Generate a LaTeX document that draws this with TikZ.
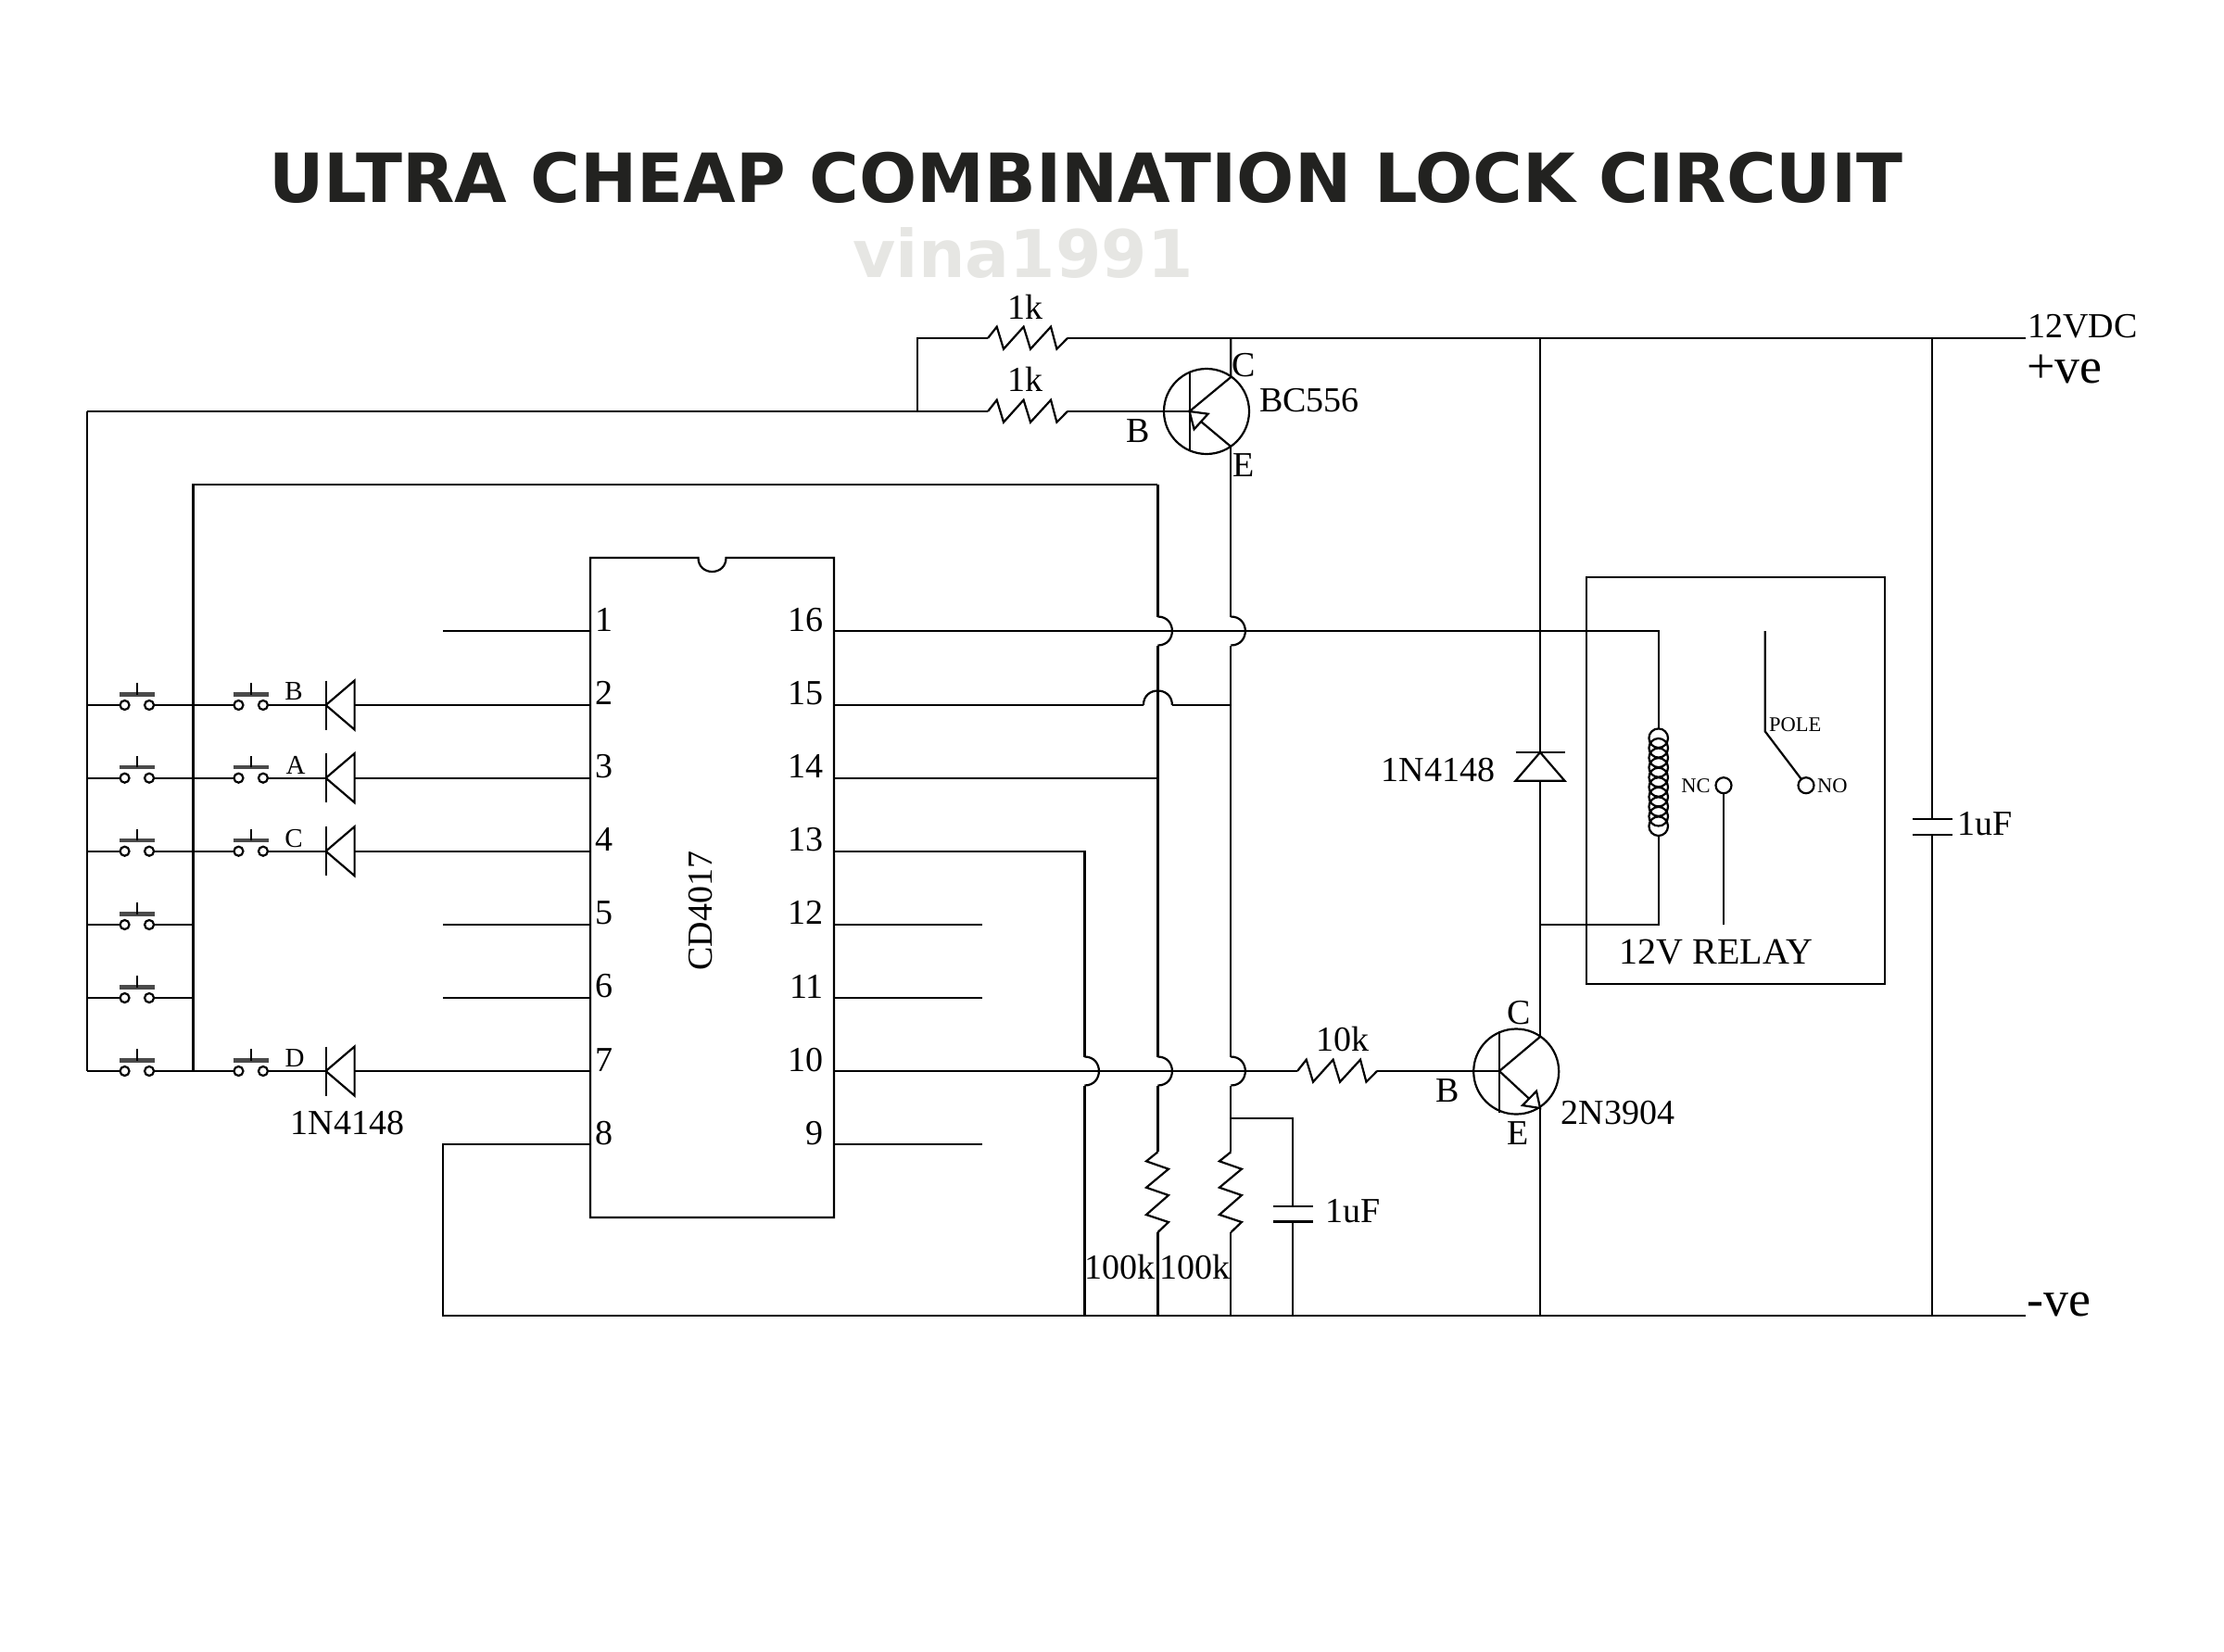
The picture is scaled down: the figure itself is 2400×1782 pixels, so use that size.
\documentclass[tikz,border=0pt]{standalone}
\usepackage{fontspec}
\setmainfont{Liberation Serif}
\newfontfamily\titlefont{DejaVu Sans}
\definecolor{inkdark}{HTML}{222220}
\definecolor{inkmark}{HTML}{E6E6E3}
\definecolor{swbar}{HTML}{4A4A4A}

\tikzset{
  wire/.style={line width=2.2pt},
  lbl/.style={inner sep=0pt,font=\fontsize{38}{40}\selectfont},
  lblsmall/.style={inner sep=0pt,font=\fontsize{29}{30}\selectfont},
  lbltiny/.style={inner sep=0pt,font=\fontsize{22.5}{24}\selectfont},
  lblbig/.style={inner sep=0pt,font=\fontsize{54}{56}\selectfont},
  bjt/.style={circle,draw,line width=2.2pt,inner sep=0pt,outer sep=0pt,minimum size=92pt},
  termc/.style={circle,draw,line width=2.2pt,inner sep=0pt,outer sep=0pt,minimum size=17pt},
  pushsw/.pic={
    \draw[wire] (-13.25,0) circle[radius=5] (13.25,0) circle[radius=5];
    \draw[line width=4.4pt,swbar] (-19,-11.5) -- (19,-11.5);
    \draw[wire] (0,-11.5) -- (0,-24);
    \coordinate (-l) at (-18.25,0);
    \coordinate (-r) at (18.25,0);
  },
  diodel/.pic={
    \draw[wire] (0,-26.5) -- (0,26.5);
    \draw[wire] (0,0) -- (31,-26.5) -- (31,26.5) -- cycle;
    \coordinate (-a) at (0,0);
    \coordinate (-k) at (31,0);
  },
  diodeu/.pic={
    \draw[wire] (-26.5,0) -- (26.5,0);
    \draw[wire] (0,0) -- (-26.5,30.7) -- (26.5,30.7) -- cycle;
    \coordinate (-a) at (0,0);
    \coordinate (-k) at (0,30.7);
  },
  resh/.pic={
    \draw[wire] (0,0) -- (9.7,-12.3) -- (17,11.7) -- (38.6,-12.3) -- (46,11.7)
      -- (68,-12.3) -- (74.4,11.7) -- (86,0);
    \coordinate (-l) at (0,0);
    \coordinate (-r) at (86,0);
  },
  resv/.pic={
    \draw[wire] (0,0) -- (-12.4,10) -- (11.6,18.4) -- (-12.4,38.4) -- (11.6,46.7)
      -- (-12.4,67.7) -- (11.6,75.7) -- (0,86.7);
    \coordinate (-t) at (0,0);
    \coordinate (-b) at (0,86.7);
  },
  capv/.pic={
    \draw[wire] (-21.5,-8.2) -- (21.5,-8.2) (-21.5,8.2) -- (21.5,8.2);
    \coordinate (-t) at (0,-8.2);
    \coordinate (-b) at (0,8.2);
  },
  hopv/.pic={
    \draw[wire] (0,-15.5) .. controls (20.7,-15.5) and (20.7,15.5) .. (0,15.5);
    \coordinate (-t) at (0,-15.5);
    \coordinate (-b) at (0,15.5);
  },
  hoph/.pic={
    \draw[wire] (-15.5,0) .. controls (-15.5,-20.7) and (15.5,-20.7) .. (15.5,0);
    \coordinate (-l) at (-15.5,0);
    \coordinate (-r) at (15.5,0);
  }
}

\begin{document}
\begin{tikzpicture}[x=1pt,y=-1pt]
  \useasboundingbox[fill=white] (0,0) rectangle (2400,1782);

  %% title
  \node[inner sep=0pt,text=inkdark,font=\titlefont\bfseries\fontsize{73.2}{76}\selectfont]
    (title) at (1172,192) {ULTRA CHEAP COMBINATION LOCK CIRCUIT};
  \node[inner sep=0pt,text=inkmark,font=\titlefont\bfseries\fontsize{71}{74}\selectfont]
    (mark) at (1104,273) {vina1991};

  %% rails
  \coordinate (vccl)  at (989.6,365);
  \coordinate (vccr)  at (2186,365);
  \coordinate (vccq1) at (1328.3,365);
  \coordinate (vccd)  at (1662,365);
  \coordinate (vccc)  at (2085.3,365);
  \coordinate (gndl)  at (478,1420);
  \coordinate (gndr)  at (2186,1420);
  \coordinate (gnd13) at (1170.4,1420);
  \coordinate (gndr1) at (1249.4,1420);
  \coordinate (gndr2) at (1328.3,1420);
  \coordinate (gndc)  at (1395,1420);
  \coordinate (gndq)  at (1662,1420);
  \coordinate (gndcc) at (2085.3,1420);
  \coordinate (fbl)   at (93.7,444);
  \coordinate (fbj)   at (989.6,444);
  \coordinate (rstl)  at (208.5,522.7);
  \coordinate (rstr)  at (1249.4,522.7);

  %% chip
  \node[minimum width=263pt,minimum height=712pt,inner sep=0pt,outer sep=0pt] (ic) at (768.5,958) {};
  \coordinate (notchl) at (753.5,602);
  \coordinate (notchr) at (783.5,602);
  \draw[wire] (ic.north west) -- (notchl) .. controls (753.5,622) and (783.5,622) .. (notchr)
    -- (ic.north east) -- (ic.south east) -- (ic.south west) -- cycle;
  \node[lbl,rotate=90] (icname) at (756,983) {CD4017};

  \coordinate (p1) at (637,681);
  \coordinate (p2) at (637,761);
  \coordinate (p3) at (637,839.7);
  \coordinate (p4) at (637,918.7);
  \coordinate (p5) at (637,998);
  \coordinate (p6) at (637,1077);
  \coordinate (p7) at (637,1156);
  \coordinate (p8) at (637,1235);
  \coordinate (p16) at (900,681);
  \coordinate (p15) at (900,761);
  \coordinate (p14) at (900,839.7);
  \coordinate (p13) at (900,918.7);
  \coordinate (p12) at (900,998);
  \coordinate (p11) at (900,1077);
  \coordinate (p10) at (900,1156);
  \coordinate (p9)  at (900,1235);

  \node[lbl] (n1) at (651.5,669) {1};
  \node[lbl] (n2) at (651.5,748) {2};
  \node[lbl] (n3) at (651.5,827) {3};
  \node[lbl] (n4) at (651.5,906) {4};
  \node[lbl] (n5) at (651.5,985) {5};
  \node[lbl] (n6) at (651.5,1064.5) {6};
  \node[lbl] (n7) at (651.5,1144) {7};
  \node[lbl] (n8) at (651.5,1223) {8};
  \node[lbl,anchor=east] (n16) at (889,669) {16};
  \node[lbl,anchor=east] (n15) at (889,748) {15};
  \node[lbl,anchor=east] (n14) at (889,827) {14};
  \node[lbl,anchor=east] (n13) at (889,906) {13};
  \node[lbl,anchor=east] (n12) at (889,985) {12};
  \node[lbl,anchor=east] (n11) at (889,1064.5) {11};
  \node[lbl,anchor=east] (n10) at (889,1144) {10};
  \node[lbl,anchor=east] (n9)  at (889,1223) {9};

  %% unused pins
  \coordinate (s1) at (478,681);
  \coordinate (s5) at (478,998);
  \coordinate (s6) at (478,1077);
  \coordinate (s8) at (478,1235);
  \coordinate (s12) at (1059.5,998);
  \coordinate (s11) at (1059.5,1077);
  \coordinate (s9)  at (1059.5,1235);
  \draw[wire] (s1) -- (p1);
  \draw[wire] (s5) -- (p5);
  \draw[wire] (s6) -- (p6);
  \draw[wire] (p12) -- (s12);
  \draw[wire] (p11) -- (s11);
  \draw[wire] (p9) -- (s9);
  \draw[wire] (p8) -- (s8) -- (gndl) -- (gndr);

  %% keypad
  \coordinate (lr1) at (93.7,761);
  \coordinate (lr2) at (93.7,839.7);
  \coordinate (lr3) at (93.7,918.7);
  \coordinate (lr4) at (93.7,998);
  \coordinate (lr5) at (93.7,1077);
  \coordinate (lr6) at (93.7,1156);
  \coordinate (ir1) at (208.5,761);
  \coordinate (ir2) at (208.5,839.7);
  \coordinate (ir3) at (208.5,918.7);
  \coordinate (ir4) at (208.5,998);
  \coordinate (ir5) at (208.5,1077);
  \coordinate (ir6) at (208.5,1156);

  \pic (k1) at (147.8,761) {pushsw};
  \pic (k2) at (147.8,839.7) {pushsw};
  \pic (k3) at (147.8,918.7) {pushsw};
  \pic (k4) at (147.8,998) {pushsw};
  \pic (k5) at (147.8,1077) {pushsw};
  \pic (k6) at (147.8,1156) {pushsw};
  \pic (kb) at (270.7,761) {pushsw};
  \pic (ka) at (270.7,839.7) {pushsw};
  \pic (kc) at (270.7,918.7) {pushsw};
  \pic (kd) at (270.7,1156) {pushsw};
  \pic (db) at (351.6,761) {diodel};
  \pic (da) at (351.6,839.7) {diodel};
  \pic (dc) at (351.6,918.7) {diodel};
  \pic (dd) at (351.6,1156) {diodel};

  \draw[wire] (lr1) -- (k1-l) (k1-r) -- (ir1);
  \draw[wire] (lr2) -- (k2-l) (k2-r) -- (ir2);
  \draw[wire] (lr3) -- (k3-l) (k3-r) -- (ir3);
  \draw[wire] (lr4) -- (k4-l) (k4-r) -- (ir4);
  \draw[wire] (lr5) -- (k5-l) (k5-r) -- (ir5);
  \draw[wire] (lr6) -- (k6-l) (k6-r) -- (ir6);
  \draw[wire] (ir1) -- (kb-l) (kb-r) -- (db-a) (db-k) -- (p2);
  \draw[wire] (ir2) -- (ka-l) (ka-r) -- (da-a) (da-k) -- (p3);
  \draw[wire] (ir3) -- (kc-l) (kc-r) -- (dc-a) (dc-k) -- (p4);
  \draw[wire] (ir6) -- (kd-l) (kd-r) -- (dd-a) (dd-k) -- (p7);
  \draw[wire] (fbl) -- (lr6);
  \draw[wire] (ir6) -- (rstl) -- (rstr);

  \node[lblsmall] (lb) at (317,746) {B};
  \node[lblsmall] (la) at (319,826) {A};
  \node[lblsmall] (lc) at (317,905) {C};
  \node[lblsmall] (ld) at (318,1142) {D};
  \node[lbl] (ld4148) at (375,1212) {1N4148};

  %% top resistors and BC556
  \pic (r1) at (1066,365) {resh};
  \pic (r2) at (1066,444) {resh};
  \node[lbl] (r1v) at (1106,331) {1k};
  \node[lbl] (r2v) at (1106,409) {1k};
  \draw[wire] (fbj) -- (vccl) -- (r1-l) (r1-r) -- (vccr);
  \draw[wire] (fbl) -- (r2-l);

  \node[bjt] (q1) at (1302,444) {};
  \coordinate (q1b) at (1283.6,444);
  \coordinate (q1bt) at (1283.6,401);
  \coordinate (q1bb) at (1283.6,487);
  \coordinate (q1c) at (1328.3,407);
  \coordinate (q1e) at (1328.3,482);
  \coordinate (q1a) at (1296,455);
  \draw[wire] (r2-r) -- (q1b);
  \draw[wire] (q1bt) -- (q1bb);
  \draw[wire] (q1b) -- (q1c) -- (vccq1);
  \draw[wire] (q1e) -- (q1a);
  \draw[wire,fill=white] (q1b) -- (1303.6,446.7) -- (1288.6,463.3) -- cycle;
  \node[lbl] (q1cl) at (1342,394) {C};
  \node[lbl] (q1el) at (1342,502) {E};
  \node[lbl] (q1bl) at (1228,465) {B};
  \node[lbl,anchor=west] (q1n) at (1359,432) {BC556};

  %% hops and long verticals
  \pic (h13) at (1170.4,1156) {hopv};
  \pic (h1a) at (1249.4,681) {hopv};
  \pic (h1b) at (1249.4,1156) {hopv};
  \pic (h2a) at (1328.3,681) {hopv};
  \pic (h2b) at (1328.3,1156) {hopv};
  \pic (h15) at (1249.4,761) {hoph};
  \pic (r3) at (1249.4,1243.3) {resv};
  \pic (r4) at (1328.3,1243.3) {resv};
  \coordinate (j14) at (1249.4,839.7);
  \coordinate (j15) at (1328.3,761);
  \coordinate (t13) at (1170.4,918.7);
  \coordinate (jc)  at (1328.3,1207.3);
  \coordinate (jct) at (1395,1207.3);

  \draw[wire] (rstr) -- (h1a-t) (h1a-b) -- (h1b-t) (h1b-b) -- (r3-t) (r3-b) -- (gndr1);
  \draw[wire] (q1e) -- (h2a-t) (h2a-b) -- (h2b-t) (h2b-b) -- (r4-t) (r4-b) -- (gndr2);
  \draw[wire] (p13) -- (t13) -- (h13-t) (h13-b) -- (gnd13);
  \draw[wire] (p14) -- (j14);
  \draw[wire] (p15) -- (h15-l) (h15-r) -- (j15);
  \node[lbl] (r3v) at (1208,1367) {100k};
  \node[lbl] (r4v) at (1289,1367) {100k};

  \pic (c1) at (1395,1310.2) {capv};
  \draw[wire] (jc) -- (jct) -- (c1-t) (c1-b) -- (gndc);
  \node[lbl,anchor=west] (c1v) at (1430,1307) {1uF};

  %% 2N3904
  \pic (r5) at (1400,1156) {resh};
  \node[lbl] (r5v) at (1449,1121) {10k};
  \node[bjt] (q2) at (1636.2,1156.5) {};
  \coordinate (q2b) at (1618,1156);
  \coordinate (q2bt) at (1618,1113);
  \coordinate (q2bb) at (1618,1200.7);
  \coordinate (q2c) at (1662,1119);
  \coordinate (q2e) at (1662,1196);
  \coordinate (q2a) at (1650,1185.7);
  \draw[wire] (p10) -- (r5-l) (r5-r) -- (q2b);
  \draw[wire] (q2bt) -- (q2bb);
  \draw[wire] (q2b) -- (q2c);
  \draw[wire] (q2b) -- (q2a);
  \draw[wire,fill=white] (q2e) -- (1658,1177.7) -- (1643,1193) -- cycle;
  \draw[wire] (q2e) -- (gndq);
  \node[lbl] (q2cl) at (1639,1093) {C};
  \node[lbl] (q2bl) at (1562,1177) {B};
  \node[lbl] (q2el) at (1638,1223) {E};
  \node[lbl] (q2n) at (1746,1201) {2N3904};

  %% flyback diode
  \pic (d5) at (1662,812) {diodeu};
  \coordinate (jcoil) at (1662,998.3);
  \draw[wire] (vccd) -- (d5-a) (d5-k) -- (q2c);
  \node[lbl] (d5v) at (1552,831) {1N4148};

  %% relay
  \node[draw,line width=2.2pt,inner sep=0pt,outer sep=0pt,minimum width=322.6pt,minimum height=439.6pt] (relay) at (1873,842.5) {};
  \coordinate (coilt) at (1789.7,681);
  \coordinate (coilh) at (1789.7,786.7);
  \coordinate (coill) at (1789.7,901.7);
  \coordinate (coilb) at (1789.7,998.3);
  \draw[wire] (p16) -- (coilt) -- (coilh);
  \draw[wire] (coill) -- (coilb) -- (jcoil);
  \draw[wire] (1789.7,796.7) circle[radius=10.3]
    (1789.7,807.3) circle[radius=10.3]
    (1789.7,817.8) circle[radius=10.3]
    (1789.7,828.4) circle[radius=10.3]
    (1789.7,839) circle[radius=10.3]
    (1789.7,849.5) circle[radius=10.3]
    (1789.7,860.1) circle[radius=10.3]
    (1789.7,870.6) circle[radius=10.3]
    (1789.7,881.2) circle[radius=10.3]
    (1789.7,891.7) circle[radius=10.3];

  \node[termc] (nc) at (1860,847.7) {};
  \node[termc] (no) at (1949,847.7) {};
  \coordinate (ncb)   at (1860,998);
  \coordinate (polet) at (1904.7,681);
  \coordinate (poleb) at (1904.7,789.3);
  \draw[wire] (nc) -- (ncb);
  \draw[wire] (polet) -- (poleb) -- (no);
  \node[lbltiny] (ncl) at (1830,848) {NC};
  \node[lbltiny,anchor=west] (nol) at (1961,848) {NO};
  \node[lbltiny,anchor=west] (polel) at (1909,782) {POLE};
  \node[inner sep=0pt,font=\fontsize{40}{42}\selectfont] (relayl) at (1852,1028) {12V RELAY};

  %% supply
  \pic (c2) at (2085.3,892.5) {capv};
  \draw[wire] (vccc) -- (c2-t) (c2-b) -- (gndcc);
  \node[lbl,anchor=west] (c2v) at (2112,889) {1uF};
  \node[lbl,anchor=west] (vcc) at (2188,352) {12VDC};
  \node[lblbig,anchor=west] (vp) at (2187,399) {+ve};
  \node[lblbig,anchor=west] (vn) at (2187,1408) {-ve};
\end{tikzpicture}
\end{document}
